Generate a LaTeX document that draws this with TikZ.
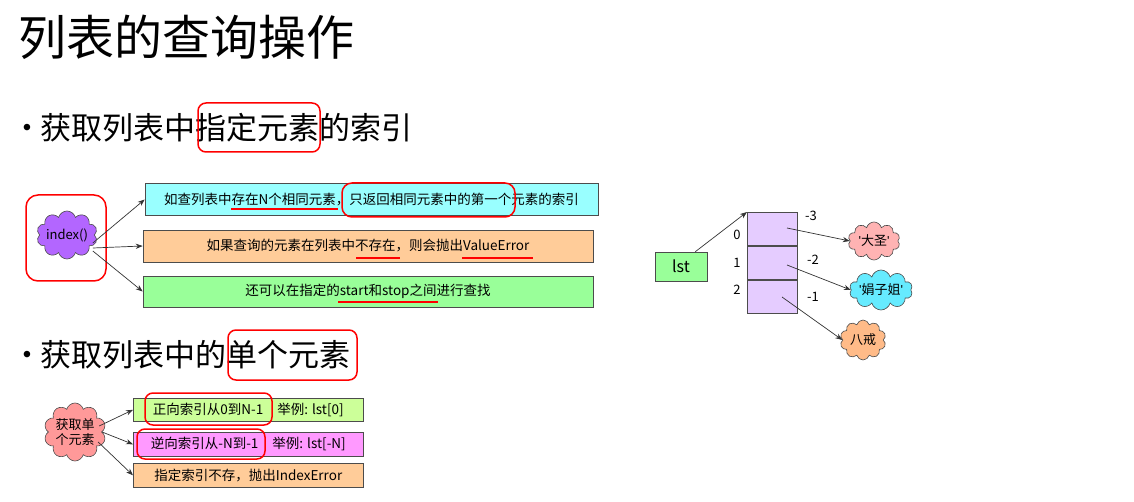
\documentclass[tikz,border=0pt]{standalone}
\usepackage{fontspec}
\setmainfont[Ligatures=NoCommon]{Noto Sans CJK SC}
\newfontfamily\qfont[Ligatures=NoCommon]{Liberation Sans}
\usetikzlibrary{shapes.symbols,arrows.meta}
\newcommand{\sq}{{\qfont\char"27}}
\begin{document}
\begin{tikzpicture}[x=1pt,y=-1pt,
  bx/.style={draw=black!70,line width=0.6pt,inner sep=0pt,font=\fontsize{13.5}{15}\selectfont},
  cl/.style={cloud,cloud puffs=10,cloud ignores aspect,draw=black!70,line width=0.6pt,inner sep=0pt,font=\fontsize{13}{15}\selectfont},
  ar/.style={-{Stealth[length=7pt]},black!80,line width=0.7pt},
  hl/.style={draw=red,line width=1.5pt,rounded corners=8pt},
  ul/.style={red,line width=1.3pt},
  bl/.style={inner sep=0pt,font=\fontsize{31}{34}\selectfont}]
\useasboundingbox (0,0) rectangle (1134,502);
\fill[white] (0,0) rectangle (1134,502);
\node[anchor=west,inner sep=0pt,font=\fontsize{48}{52}\selectfont] (title) at (18,37) {列表的查询操作};
\node[bl,font=\fontsize{24}{26}\selectfont] (d1b) at (27,130) {\qfont •};
\node[bl,anchor=west] (b1) at (40,128) {获取列表中指定元素的索引};
\draw[hl] (198,103) rectangle (320,152);
\node[cl,fill={rgb,255:red,179;green,102;blue,255},minimum width=58,minimum height=48] (idx) at (67,235) {index()};
\draw[hl,rounded corners=12pt] (26,195) rectangle (106,281);
\node[bx,fill={rgb,255:red,153;green,255;blue,255},minimum width=453,minimum height=32] (r1) at (371.5,199.5) {如查列表中存在N个相同元素，只返回相同元素中的第一个元素的索引};
\node[bx,fill={rgb,255:red,255;green,204;blue,153},minimum width=450,minimum height=32] (r2) at (368,246) {如果查询的元素在列表中不存在，则会抛出ValueError};
\node[bx,fill={rgb,255:red,153;green,255;blue,153},minimum width=450,minimum height=31] (r3) at (368,291.5) {还可以在指定的start和stop之间进行查找};
\draw[hl,rounded corners=10pt] (342,183) rectangle (515,217);
\draw[ul] (231,209) -- (338,209);
\draw[ul] (356,258) -- (400,258);
\draw[ul] (462,258) -- (533,258);
\draw[ul] (338,302) -- (438,302);
\draw[ar] (idx.east) ++(-2,8) -- (r1.west);
\draw[ar] (idx.east) ++(-2,13) -- (r2.west);
\draw[ar] (idx.east) ++(-2,16) -- (r3.west);
% right
\node[bx,fill={rgb,255:red,153;green,255;blue,153},minimum width=52,minimum height=29,font=\fontsize{16}{18}\selectfont] (lst) at (681,266.5) {lst};
\node[bx,fill={rgb,255:red,229;green,204;blue,255},minimum width=50,minimum height=33.3,anchor=north west] (c0) at (747,212) {};
\node[bx,fill={rgb,255:red,229;green,204;blue,255},minimum width=50,minimum height=33.3,anchor=north] (c1) at (c0.south) {};
\node[bx,fill={rgb,255:red,229;green,204;blue,255},minimum width=50,minimum height=33.3,anchor=north] (c2) at (c1.south) {};
\begin{scope}[every node/.style={font=\fontsize{13}{15}\selectfont}]
\node (i0) at (737,235) {0};
\node (i1) at (737,263) {1};
\node (i2) at (737,290) {2};
\node (n3) at (811,216) {-3};
\node (n2) at (813,260) {-2};
\node (n1) at (813,297) {-1};
\end{scope}
\node[cl,fill={rgb,255:red,255;green,179;blue,179},minimum width=52,minimum height=38] (d1) at (874,241) {\sq 大圣\sq};
\node[cl,fill={rgb,255:red,102;green,235;blue,255},minimum width=62,minimum height=40] (d2) at (881,290) {\sq 娟子姐\sq};
\node[cl,fill={rgb,255:red,255;green,187;blue,136},minimum width=46,minimum height=40] (d3) at (863,340) {八戒};
\draw[ar] (lst.north east) ++(-12,0) -- (c0.north west);
\coordinate (p0) at (787,228);
\coordinate (p1) at (787,265);
\coordinate (p2) at (782,297);
\draw[ar] (p0) -- (d1.west);
\draw[ar] (p1) -- (d2.west);
\draw[ar] (p2) -- (d3.west);
% bullet 2
\node[bl,font=\fontsize{24}{26}\selectfont] (d2b) at (27,357) {\qfont •};
\node[bl,anchor=west] (b2) at (40,355) {获取列表中的单个元素};
\draw[hl] (228,330) rectangle (357,380);
\node[cl,fill={rgb,255:red,255;green,153;blue,153},minimum width=62,minimum height=58,align=center] (g) at (75,432) {获取单\\个元素};
\node[bx,fill={rgb,255:red,204;green,255;blue,153},minimum width=230,minimum height=23,anchor=north west] (s1) at (133,398) {正向索引从0到N-1\hspace{14pt}举例: lst[0]};
\node[bx,fill={rgb,255:red,255;green,153;blue,255},minimum width=230,minimum height=24,anchor=north west] (s2) at (133,432) {逆向索引从-N到-1\hspace{14pt}举例: lst[-N]};
\node[bx,fill={rgb,255:red,255;green,204;blue,153},minimum width=230,minimum height=24,anchor=north west] (s3) at (133,463) {指定索引不存，抛出IndexError};
\draw[hl] (145,393) rectangle (272,425);
\draw[hl] (137,429) rectangle (265,459);
\draw[ar] (g.east) ++(-3,-6) -- (s1.west);
\draw[ar] (g.east) -- (s2.west);
\draw[ar] (g.east) ++(-4,10) -- (s3.west);
\end{tikzpicture}
\end{document}
